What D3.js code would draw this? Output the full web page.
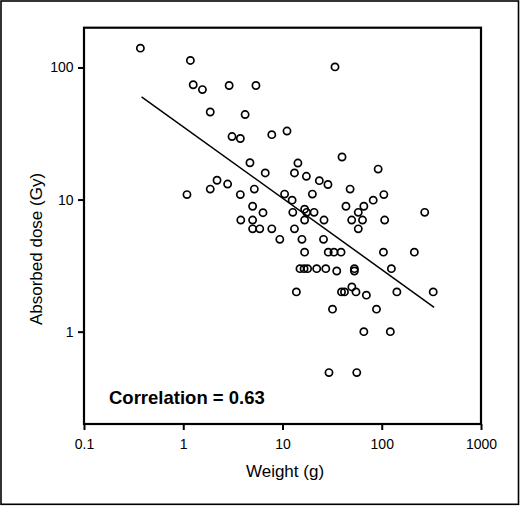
<!DOCTYPE html>
<html>
<head>
<meta charset="utf-8">
<script src="https://cdn.jsdelivr.net/npm/d3@7"></script>
<style>
  html, body { margin: 0; padding: 0; background: #fff; }
  svg { display: block; }
</style>
</head>
<body>
<svg id="chart" width="520" height="506"></svg>
<script>
// Data
const weights = [0.37,1.18,1.26,1.56,2.9,5.4,1.87,4.2,3.1,3.76,
  4.7,1.09,1.87,2.19,2.8,3.76,5.2,5.0,3.8,5.0,
  5.0,5.9,7.8,6.36,6.7,10.5,9.4,33.8,7.8,11.1,
  39.8,14.3,13.2,17.4,92,23.5,28.7,48,20,105,
  12.5,82,66,43.6,12.7,16.7,17.5,20.8,58,271,
  16.7,26.2,49.8,64,107,13.2,58,15.7,25.9,16.7,
  28.9,33,38.9,104,213,15.0,16.5,17.9,22.1,27.3,
  35.2,53,53,125,13.8,39.3,42.1,50,55,70,
  142,330,31.9,88.5,66,122,29.4,56];
const doses = [140,113,74,68,73,73,46,44,30,29,
  19,10.9,12,14,13.1,10.9,12,8.9,7.0,7.0,
  6.0,6.0,6.0,7.95,15.9,11,5.0,101,31,33,
  21,18.9,15.9,15,17,13.9,13,12,11,10.9,
  9.9,9.9,8.9,8.9,8.0,8.45,8.0,8.0,8.0,8.0,
  7.0,7.0,7.0,7.0,7.0,6.0,6.0,5.0,5.0,4.0,
  4.0,4.0,4.0,4.0,4.0,3.0,3.0,3.0,3.0,3.0,
  2.88,3.0,2.88,3.0,2.0,2.0,2.0,2.18,2.0,1.89,
  2.0,2.0,1.48,1.48,1.0,1.0,0.49,0.49];
const fitX = [0.38, 337];
const fitY = [60, 1.53];
const xTicks = [0.1, 1, 10, 100, 1000];
const xTickLabels = ["0.1", "1", "10", "100", "1000"];
const yTicks = [1, 10, 100];
const yTickLabels = ["1", "10", "100"];
const xTitle = "Weight (g)";
const yTitle = "Absorbed dose (Gy)";
const annotation = "Correlation = 0.63";

const svg = d3.select("#chart");
const font = "'Liberation Sans', Arial, Helvetica, sans-serif";
const L = 84, R = 481, T = 27.7, B = 424;

svg.append("rect").attr("x", 0).attr("y", 0).attr("width", 520).attr("height", 506).attr("fill", "#fff");
// outer border
svg.append("rect").attr("x", 1).attr("y", 1).attr("width", 517.5).attr("height", 503.3)
  .attr("fill", "none").attr("stroke", "#000").attr("stroke-width", 1.6);

const x = d3.scaleLog().domain([0.1, 1000]).range([L, R]);
const y = d3.scaleLog().domain([0.2, 200]).range([B, T]);

// axes
const xAxis = d3.axisBottom(x).tickValues(xTicks)
  .tickFormat((d, i) => xTickLabels[i]).tickSize(6).tickPadding(9).tickSizeOuter(0);
const gx = svg.append("g").attr("transform", `translate(0,${B})`).call(xAxis);
const yAxis = d3.axisLeft(y).tickValues(yTicks)
  .tickFormat((d, i) => yTickLabels[i]).tickSize(6).tickPadding(4.5).tickSizeOuter(0);
const gy = svg.append("g").attr("transform", `translate(${L},0)`).call(yAxis);
[gx, gy].forEach(g => {
  g.select(".domain").remove();
  g.selectAll(".tick line").attr("stroke", "#000").attr("stroke-width", 2);
  g.selectAll(".tick text").attr("fill", "#000").style("font-family", font).style("font-size", "14px");
});

// frame
svg.append("rect").attr("x", L).attr("y", T).attr("width", R - L).attr("height", B - T)
  .attr("fill", "none").attr("stroke", "#000").attr("stroke-width", 2.2);

// regression line
svg.append("line")
  .attr("x1", x(fitX[0])).attr("y1", y(fitY[0]))
  .attr("x2", x(fitX[1])).attr("y2", y(fitY[1]))
  .attr("stroke", "#000").attr("stroke-width", 1.5);

// points
svg.append("g").selectAll("circle").data(weights.map((w, i) => [w, doses[i]]))
  .join("circle")
  .attr("cx", d => x(d[0])).attr("cy", d => y(d[1])).attr("r", 3.6)
  .attr("fill", "none").attr("stroke", "#000").attr("stroke-width", 1.7);

// annotation
svg.append("text").attr("x", 109).attr("y", 404)
  .style("font-family", font).style("font-size", "18.5px").style("font-weight", "bold")
  .attr("fill", "#000").text(annotation);

// axis titles
svg.append("text").attr("x", 285).attr("y", 477).attr("text-anchor", "middle")
  .style("font-family", font).style("font-size", "17px").attr("fill", "#000").text(xTitle);
svg.append("text").attr("transform", "translate(42,249) rotate(-90)").attr("text-anchor", "middle")
  .style("font-family", font).style("font-size", "17px").attr("fill", "#000").text(yTitle);
</script>
</body>
</html>
